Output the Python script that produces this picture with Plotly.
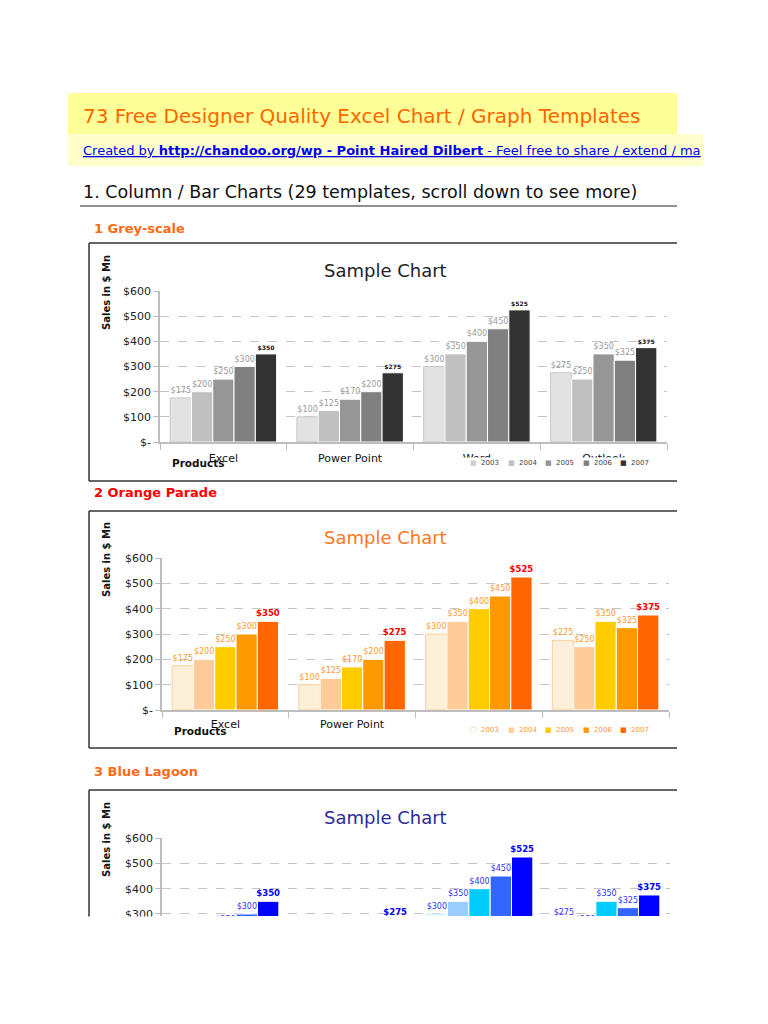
import plotly.graph_objects as go

W, H = 768, 1024
PAGE_OFFSET = 8  # the html body margin shifts the figure by 8px

# ---------------- data ----------------
products = ["Excel", "Power Point", "Word", "Outlook"]
years = ["2003", "2004", "2005", "2006", "2007"]
sales_2003 = [175, 100, 300, 275]
sales_2004 = [200, 125, 350, 250]
sales_2005 = [250, 170, 400, 350]
sales_2006 = [300, 200, 450, 325]
sales_2007 = [350, 275, 525, 375]
series = [sales_2003, sales_2004, sales_2005, sales_2006, sales_2007]

y_tick_vals = [0, 100, 200, 300, 400, 500, 600]
y_tick_text = ["$-", "$100", "$200", "$300", "$400", "$500", "$600"]

FONT = "DejaVu Sans"


def fx(px):
    return (px - PAGE_OFFSET) / W


def fy(py):
    return 1 - (py - PAGE_OFFSET) / H


themes = [
    dict(
        label="1 Grey-scale", label_color="#ff6a13", label_y=228,
        title_color="#222222",
        fills=["#e2e2e2", "#c0c0c0", "#969696", "#808080", "#333333"],
        lines=["#c8c8c8", "#ffffff", "#ffffff", "#ffffff", "#ffffff"],
        txt_colors=["#9a9a9a", "#9a9a9a", "#9a9a9a", "#9a9a9a", "#111111"],
        txt_sizes=[8, 8, 8, 8, 6],
        leg_sym=["#d0d0d0", "#c0c0c0", "#969696", "#808080", "#333333"],
        leg_txt="#444444",
        frame_top=243, frame_bottom=481,
        plot_x=(160, 667), plot_y=(291, 442), yrange=[0, 600],
        title_y=270, ytitle_y=293, legend_y=463, products_y=463,
        cover=(457.5, 470), standoff=5,
    ),
    dict(
        label="2 Orange Parade", label_color="#ff0000", label_y=492,
        title_color="#ff7722",
        fills=["#fdf0da", "#ffcc99", "#ffcc00", "#ff9900", "#ff6600"],
        lines=["#ffcc99", "#ffffff", "#ffffff", "#ffffff", "#ffffff"],
        txt_colors=["#ff9933", "#ff9933", "#ff9933", "#ff9933", "#ff0000"],
        txt_sizes=[8, 8, 8, 8, 8.5],
        leg_sym=["#ffcc99", "#ffcc99", "#ffcc00", "#ff9900", "#ff6600"],
        leg_txt="#ff9933",
        frame_top=511, frame_bottom=748,
        plot_x=(162, 669), plot_y=(558, 710), yrange=[0, 600],
        title_y=537, ytitle_y=560, legend_y=730, products_y=731,
        cover=(720, 738), standoff=3,
    ),
    dict(
        label="3 Blue Lagoon", label_color="#ff6a13", label_y=771,
        title_color="#2b2b99",
        fills=["#eaf8ff", "#99ccff", "#00ccff", "#3366ff", "#0000ff"],
        lines=["#cdeeff", "#ffffff", "#ffffff", "#ffffff", "#ffffff"],
        txt_colors=["#3333ff", "#3333ff", "#3333ff", "#3333ff", "#0000ff"],
        txt_sizes=[8, 8, 8, 8, 8.5],
        leg_sym=None, leg_txt=None,
        frame_top=790, frame_bottom=None,
        plot_x=(162, 670), plot_y=(838, 916), yrange=[292, 600],
        title_y=817, ytitle_y=840, legend_y=None, products_y=None,
        cover=None, standoff=3,
    ),
]

fig = go.Figure()
shapes = []
annotations = []

# ---------------- page header ----------------
shapes.append(dict(type="rect", xref="paper", yref="paper",
                   x0=fx(68), x1=fx(677), y0=fy(134), y1=fy(93),
                   fillcolor="#ffff99", line=dict(width=0), layer="below"))
shapes.append(dict(type="rect", xref="paper", yref="paper",
                   x0=fx(68), x1=fx(703), y0=fy(166), y1=fy(134),
                   fillcolor="#ffffcc", line=dict(width=0), layer="below"))
annotations.append(dict(
    xref="paper", yref="paper", x=fx(81), y=fy(116), xanchor="left", yanchor="middle",
    text="73 Free Designer Quality Excel Chart / Graph Templates", showarrow=False,
    font=dict(family=FONT, size=20, color="#ff6600")))
annotations.append(dict(
    xref="paper", yref="paper", x=fx(81), y=fy(150), xanchor="left", yanchor="middle",
    text="<u>Created by <b>http://chandoo.org/wp - Point Haired Dilbert</b> - Feel free to share / extend / ma</u>",
    showarrow=False, font=dict(family=FONT, size=13, color="#0000ee")))
annotations.append(dict(
    xref="paper", yref="paper", x=fx(81), y=fy(192), xanchor="left", yanchor="middle",
    text="1. Column / Bar Charts (29 templates, scroll down to see more)", showarrow=False,
    font=dict(family=FONT, size=17.5, color="#111111")))
shapes.append(dict(type="line", xref="paper", yref="paper",
                   x0=fx(80), x1=fx(677), y0=fy(206), y1=fy(206),
                   line=dict(color="#222222", width=1.2)))

layout_axes = {}

for i, th in enumerate(themes):
    n = "" if i == 0 else str(i + 1)
    xa, ya = "x" + n, "y" + n
    for k, vals in enumerate(series):
        fig.add_trace(go.Bar(
            x=products, y=vals, name=years[k], xaxis=xa, yaxis=ya,
            marker=dict(color=th["fills"][k], line=dict(color=th["lines"][k], width=1)),
            text=[f"${v}" for v in vals], textposition="outside",
            texttemplate="<b>%{text}</b>" if k == 4 else "%{text}",
            textfont=dict(family=FONT, size=th["txt_sizes"][k], color=th["txt_colors"][k]),
            constraintext="none", cliponaxis=True, showlegend=False, hoverinfo="skip",
        ))

    x0p, x1p = th["plot_x"]
    y0p, y1p = th["plot_y"]
    last = th["frame_bottom"] is None
    layout_axes["xaxis" + n] = dict(
        domain=[fx(x0p), fx(x1p)], anchor=ya, automargin=False,
        showline=not last, linecolor="#bdbdbd", linewidth=1.5,
        ticks="" if last else "outside", tickson="boundaries", ticklen=6, tickcolor="#bdbdbd",
        showgrid=False, showticklabels=not last, ticklabelstandoff=th["standoff"],
        tickfont=dict(family=FONT, size=11, color="#111111"), fixedrange=True,
    )
    layout_axes["yaxis" + n] = dict(
        domain=[fy(y1p), fy(y0p)], anchor=xa, range=th["yrange"], automargin=False,
        showline=True, linecolor="#bdbdbd", linewidth=1.5,
        ticks="outside", ticklen=5, tickcolor="#bdbdbd",
        showgrid=True, gridcolor="#c4c4c4", griddash="dash", gridwidth=1,
        zeroline=False, tickvals=y_tick_vals, ticktext=y_tick_text,
        tickfont=dict(family=FONT, size=11, color="#222222"), fixedrange=True,
    )

    # section label
    annotations.append(dict(
        xref="paper", yref="paper", x=fx(92), y=fy(th["label_y"]), xanchor="left", yanchor="middle",
        text=f"<b>{th['label']}</b>", showarrow=False,
        font=dict(family=FONT, size=13, color=th["label_color"])))
    # frame
    ft, fb = th["frame_top"], th["frame_bottom"]
    shapes.append(dict(type="line", xref="paper", yref="paper",
                       x0=fx(89), x1=fx(677), y0=fy(ft), y1=fy(ft),
                       line=dict(color="#333333", width=1.5)))
    shapes.append(dict(type="line", xref="paper", yref="paper",
                       x0=fx(89), x1=fx(89), y0=fy(ft), y1=fy(fb if fb else 918),
                       line=dict(color="#333333", width=1.5)))
    if fb:
        shapes.append(dict(type="line", xref="paper", yref="paper",
                           x0=fx(89), x1=fx(677), y0=fy(fb), y1=fy(fb),
                           line=dict(color="#333333", width=1.5)))
    # chart title
    annotations.append(dict(
        xref="paper", yref="paper", x=fx(385), y=fy(th["title_y"]), xanchor="center", yanchor="middle",
        text="Sample Chart", showarrow=False,
        font=dict(family=FONT, size=18, color=th["title_color"])))
    # y axis title
    annotations.append(dict(
        xref="paper", yref="paper", x=fx(106), y=fy(th["ytitle_y"]), xanchor="center", yanchor="middle",
        text="<b>Sales in $ Mn</b>", textangle=-90, showarrow=False,
        font=dict(family=FONT, size=10, color="#111111")))
    if th["cover"]:
        c0, c1 = th["cover"]
        shapes.append(dict(type="rect", xref="paper", yref="paper",
                           x0=fx(455), x1=fx(666), y0=fy(c1), y1=fy(c0),
                           fillcolor="#ffffff", line=dict(width=0), layer="above"))
    if th["products_y"]:
        annotations.append(dict(
            xref="paper", yref="paper", x=fx(x0p + 10), y=fy(th["products_y"]), xanchor="left",
            yanchor="middle", text="<b>Products</b>", showarrow=False,
            font=dict(family=FONT, size=10.5, color="#111111")))
    if th["legend_y"]:
        for k, yr in enumerate(years):
            sym = "□" if (k == 0 and i == 1) else "■"
            annotations.append(dict(
                xref="paper", yref="paper", x=fx(468 + k * 37.5), y=fy(th["legend_y"]),
                xanchor="left", yanchor="middle", showarrow=False,
                text=f"<span style='color:{th['leg_sym'][k]}'>{sym}</span>  {yr}",
                font=dict(family=FONT, size=7, color=th["leg_txt"])))

# page cut at bottom of third chart
shapes.append(dict(type="rect", xref="paper", yref="paper",
                   x0=0, x1=1, y0=0, y1=fy(916.5),
                   fillcolor="#ffffff", line=dict(width=0), layer="above"))

fig.update_layout(
    width=W, height=H, margin=dict(l=0, r=0, t=0, b=0, pad=0, autoexpand=False),
    paper_bgcolor="#ffffff", plot_bgcolor="#ffffff",
    barmode="group", bargap=0.16, bargroupgap=0.0,
    showlegend=False, shapes=shapes, annotations=annotations,
    font=dict(family=FONT),
    **layout_axes,
)

fig.write_html("out.html")
